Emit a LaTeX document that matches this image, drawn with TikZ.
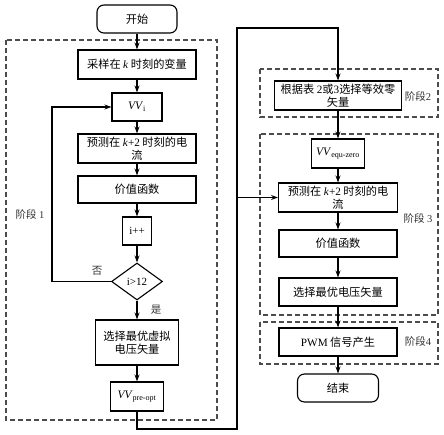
\documentclass[tikz,border=0pt]{standalone}
\usepackage{fontspec}
\setmainfont{Liberation Serif}
\newfontfamily\cjk{Noto Sans CJK SC}
\usetikzlibrary{shapes.geometric,arrows.meta}
\newcommand{\lat}[1]{{\rmfamily #1}}
\tikzset{
  box/.style={draw=black, line width=1.1pt, fill=white, inner sep=1pt, align=center,
    font=\cjk\fontsize{11.2}{13}\selectfont},
  term/.style={box, rounded corners=7pt},
  dia/.style={draw=black, line width=1.1pt, fill=white, diamond, inner sep=0pt,
    font=\rmfamily\fontsize{11}{13}\selectfont},
  stage/.style={draw=black!70, line width=1.1pt, dash pattern=on 5pt off 3pt},
  lbl/.style={font=\cjk\fontsize{10.5}{12}\selectfont, text=black!80, inner sep=0pt},
  arr/.style={draw=black, line width=1.1pt, -{Stealth[length=7pt,width=5pt]}},
  ln/.style={draw=black, line width=1.1pt}
}
\begin{document}
\begin{tikzpicture}[x=1pt,y=-1pt]
\useasboundingbox (0,0) rectangle (444,435);
% stage frames
\draw[stage] (6,40) rectangle (217,420);
\draw[stage] (260,69) rectangle (438,117);
\draw[stage] (260,134) rectangle (438,315);
\draw[stage] (260,322) rectangle (438,364);
\node[lbl] (l1) at (30,215) {阶段 \lat{1}};
\node[lbl] (l2) at (418,97) {阶段\lat{2}};
\node[lbl] (l3) at (418,219) {阶段 \lat{3}};
\node[lbl] (l4) at (418,341) {阶段\lat{4}};
% left column
\node[term, minimum width=80pt, minimum height=28pt] (start) at (137,19) {开始};
\node[box, minimum width=118pt, minimum height=29pt] (samp) at (137,64.5) {采样在 \lat{\textit{k}} 时刻的变量};
\node[box, minimum width=50pt, minimum height=28pt, font=\rmfamily\fontsize{11.5}{13}\selectfont] (vvi) at (137,107) {\textit{VV}\textsubscript{i}};
\node[box, minimum width=118pt, minimum height=29pt] (pred1) at (137,148.5) {预测在 \lat{\textit{k}+2} 时刻的电\\流};
\node[box, minimum width=118pt, minimum height=27pt] (cost1) at (137,189.5) {价值函数};
\node[box, minimum width=29pt, minimum height=28pt, font=\rmfamily\fontsize{11}{13}\selectfont] (inc) at (137,231) {i++};
\node[dia, minimum width=51pt, minimum height=37pt] (cond) at (137,281.5) {i\textgreater12};
\node[box, minimum width=83pt, minimum height=45pt] (sel1) at (137,342.5) {选择最优虚拟\\电压矢量};
\node[box, minimum width=53pt, minimum height=29pt, font=\rmfamily\fontsize{11.5}{13}\selectfont] (vvp) at (137,396.5) {\textit{VV}\textsubscript{pre-opt}};
\node[lbl] (no) at (97,271) {否};
\node[lbl] (yes) at (156,310) {是};
% right column
\node[box, minimum width=127pt, minimum height=29pt] (tab) at (338,95.5) {根据表 \lat{2}或\lat{3}选择等效零\\矢量};
\node[box, minimum width=53pt, minimum height=29pt, font=\rmfamily\fontsize{11.5}{13}\selectfont] (vve) at (338,153.5) {\textit{VV}\textsubscript{equ-zero}};
\node[box, minimum width=119pt, minimum height=29pt] (pred2) at (338,197.5) {预测在 \lat{\textit{k}+2} 时刻的电\\流};
\node[box, minimum width=118pt, minimum height=27pt] (cost2) at (338,243.5) {价值函数};
\node[box, minimum width=118pt, minimum height=28pt] (sel2) at (338,292) {选择最优电压矢量};
\node[box, minimum width=118pt, minimum height=28pt] (pwm) at (338,342) {\lat{PWM} 信号产生};
\node[term, minimum width=81pt, minimum height=28pt] (end) at (338,388) {结束};
% coordinates
\coordinate (lp) at (52,281.5);
\coordinate (lt) at (52,107);
\coordinate (b1) at (137,429);
\coordinate (b2) at (237,429);
\coordinate (t1) at (237,28);
\coordinate (t2) at (338,28);
\coordinate (mj) at (237,197.5);
% connectors
\draw[arr] (start) -- (samp);
\draw[arr] (samp) -- (vvi);
\draw[arr] (vvi) -- (pred1);
\draw[arr] (pred1) -- (cost1);
\draw[arr] (cost1) -- (inc);
\draw[arr] (inc) -- (cond);
\draw[arr] (cond) -- (sel1);
\draw[arr] (sel1) -- (vvp);
\draw[arr] (cond.west) -- (lp) -- (lt) -- (vvi.west);
\draw[arr] (vvp.south) -- (b1) -- (b2) -- (t1) -- (t2) -- (tab.north);
\draw[arr] (mj) -- (pred2.west);
\draw[arr] (tab) -- (vve);
\draw[arr] (vve) -- (pred2);
\draw[arr] (pred2) -- (cost2);
\draw[arr] (cost2) -- (sel2);
\draw[arr] (sel2) -- (pwm);
\draw[arr] (pwm) -- (end);
\end{tikzpicture}
\end{document}
